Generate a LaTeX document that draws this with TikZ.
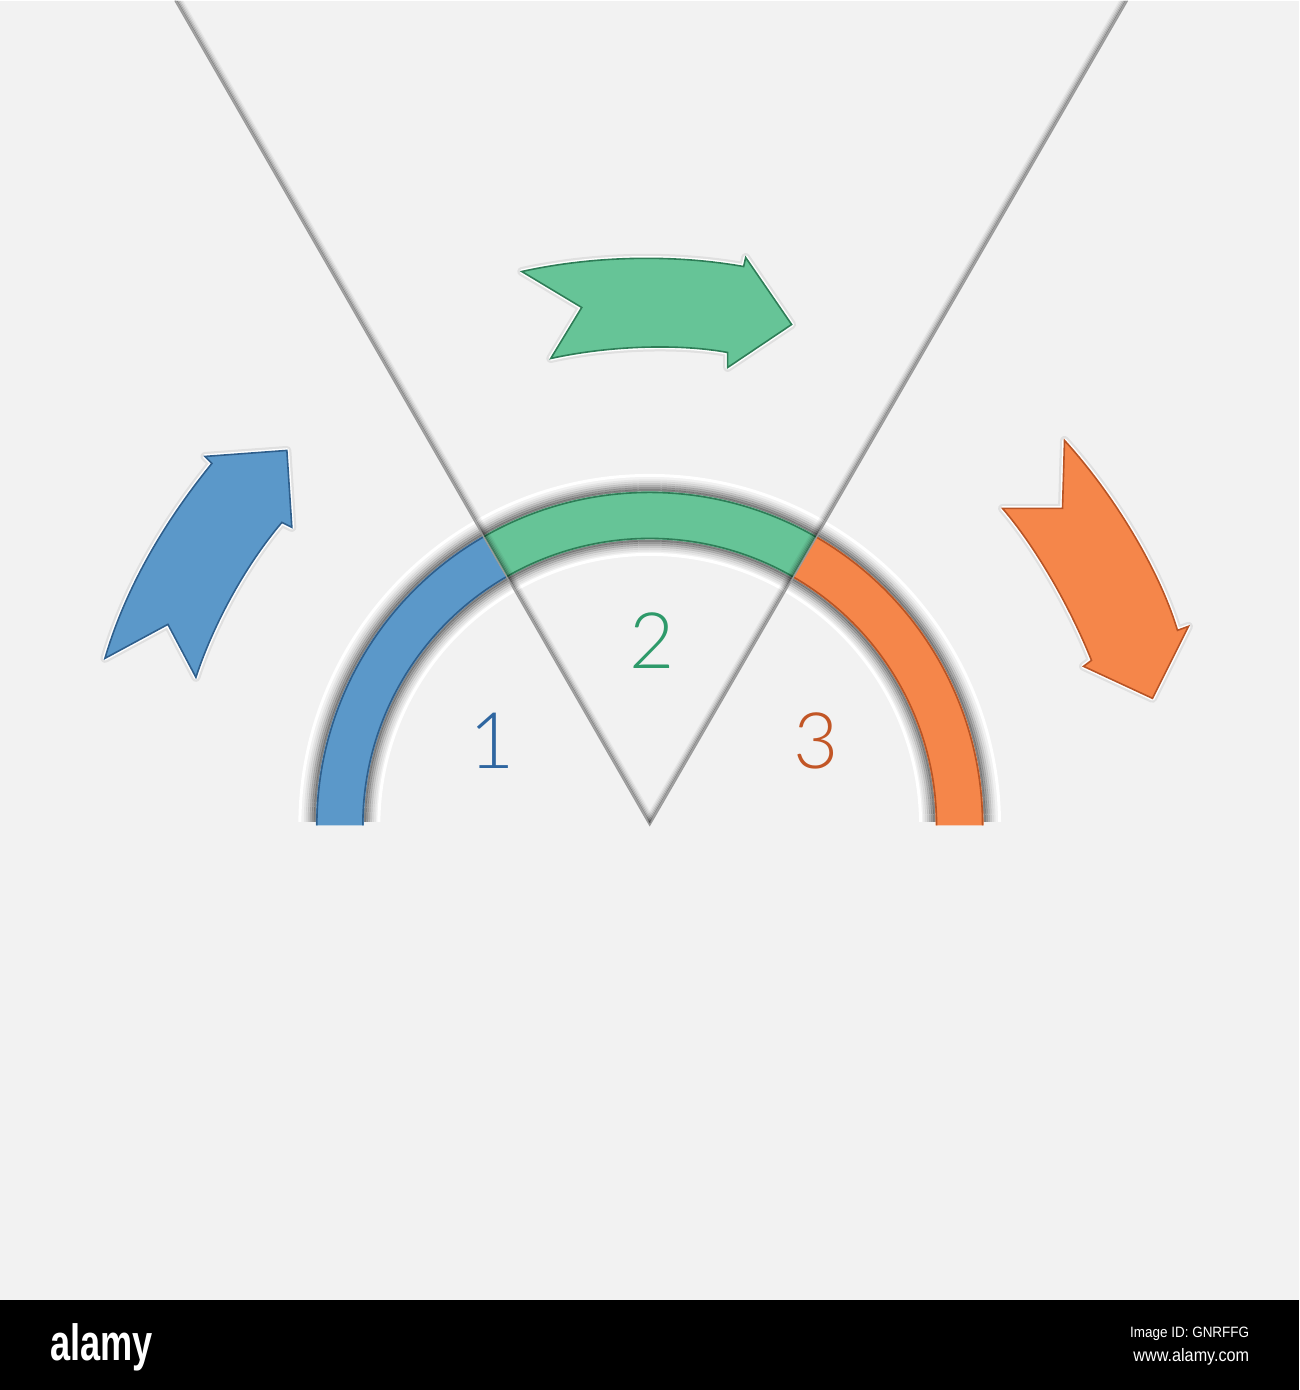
\documentclass[tikz,border=0pt]{standalone}
\usepackage{fontspec}
\setmainfont{Liberation Sans}
\IfFontExistsTF{Lato Light}{\newfontfamily\thinfont{Lato Light}}{%
  \IfFontExistsTF{Lato Thin}{\newfontfamily\thinfont{Lato Thin}[FakeBold=1.5]}{%
    \newfontfamily\thinfont{DejaVuSans-ExtraLight.ttf}}}
\usetikzlibrary{calc}
\definecolor{bg}{HTML}{F2F2F2}
\definecolor{blueF}{HTML}{5B98C9}
\definecolor{blueD}{HTML}{2F5F8C}
\definecolor{greenF}{HTML}{66C497}
\definecolor{greenD}{HTML}{2E7D57}
\definecolor{orangeF}{HTML}{F5864A}
\definecolor{orangeD}{HTML}{B85425}
\definecolor{numB}{HTML}{2F66A0}
\definecolor{numG}{HTML}{2E9A6A}
\definecolor{numO}{HTML}{C25626}
\definecolor{vgray}{HTML}{9A9A9A}
\tikzset{
  arrowshape/.style={line width=1.6, line join=miter,
    preaction={draw=black,opacity=0.07,line width=9,line join=round},
    preaction={draw=white,line width=4.5,line join=round}},
  vline/.style={draw=vgray,line width=1.3},
  digit/.style={font=\thinfont\fontsize{78}{78}\selectfont, inner sep=0, anchor=base},
  barfont/.style={text=white, inner sep=0}
}
\begin{document}
\begin{tikzpicture}[x=1pt,y=-1pt]
\fill[bg] (0,0) rectangle (1300,1390);
\coordinate (c) at (650,825);

% ring halo and shadows
\draw[white,line width=3] (c) ++(-180:350) arc[start angle=-180,end angle=0,radius=350];
\foreach \r/\o in {335/0.45,337/0.36,339/0.27,341/0.18,343/0.10,345/0.05}
  \draw[black,opacity=\o,line width=2.2] (c) ++(-180:\r) arc[start angle=-180,end angle=0,radius=\r];
\draw[white,line width=3] (c) ++(-180:271) arc[start angle=-180,end angle=0,radius=271];
\foreach \r/\o in {285/0.45,283/0.36,281/0.27,279/0.18,277/0.10,275/0.05}
  \draw[black,opacity=\o,line width=2.2] (c) ++(-180:\r) arc[start angle=-180,end angle=0,radius=\r];

% bottom shadow lines
\shade[left color=bg,middle color=black!80,right color=bg] (256,822.5) rectangle (422,826);
\shade[left color=bg,middle color=white,right color=bg] (256,826) rectangle (422,829);
\shade[left color=bg,middle color=black!80,right color=bg] (876,822.5) rectangle (1042,826);
\shade[left color=bg,middle color=white,right color=bg] (876,826) rectangle (1042,829);

% ring segments
\foreach \a/\b/\f/\d in {-180/-120/blueF/blueD,-120/-60/greenF/greenD,-60/0/orangeF/orangeD}{
  \fill[\f] (c) ++(\a:334) arc[start angle=\a,end angle=\b,radius=334]
     -- ($(c)+(\b:286)$) arc[start angle=\b,end angle=\a,radius=286] -- cycle;
  \draw[\d,line width=1.6] (c) ++(\a:333) arc[start angle=\a,end angle=\b,radius=333];
  \draw[\d,line width=1.6] (c) ++(\a:287) arc[start angle=\a,end angle=\b,radius=287];
}

% V shadows and lines
\begin{scope}
  \clip (175,0) -- (650,825) -- (1128,0) -- cycle;
  \foreach \s/\o in {1.5/0.32,3/0.22,4.5/0.14,6/0.08,7.5/0.04}{
    \draw[black,opacity=\o,line width=1.8,xshift=\s] (175,0) -- (650,825);
    \draw[black,opacity=\o,line width=1.8,xshift=-\s] (1128,0) -- (650,825);
  }
\end{scope}
\draw[vline] (175,0) -- (c) -- (1128,0);

% numbers
\node[digit,text=numB] (n1) at (492,768) {1};
\node[digit,text=numG] (n2) at (652,668) {2};
\node[digit,text=numO] (n3) at (816,768) {3};

% blue arrow
\draw[arrowshape,fill=blueF,draw=blueD]
  (105,658) -- (168,624) -- (196,677)
  .. controls (212,628) and (243,568) .. (282,522)
  -- (292,527) -- (287,450) -- (205,456) -- (212,463)
  .. controls (160,527) and (124,593) .. (105,658) -- cycle;

% green arrow
\draw[arrowshape,fill=greenF,draw=greenD]
  (522,271) -- (582,307) -- (551,358)
  .. controls (610,345) and (680,343) .. (728,352)
  -- (728,367) -- (792,324) -- (746,257) -- (744,266)
  .. controls (670,253) and (590,256) .. (522,271) -- cycle;

% orange arrow
\draw[arrowshape,fill=orangeF,draw=orangeD]
  (1065,440) -- (1063,508) -- (1003,508)
  .. controls (1035,545) and (1070,605) .. (1092,660)
  -- (1084,666) -- (1153,698) -- (1189,626) -- (1178,630)
  .. controls (1160,570) and (1115,495) .. (1065,440) -- cycle;

% bottom bar
\fill[black] (0,1300) rectangle (1300,1390);
\node[barfont,anchor=base west,font=\fontsize{51}{51}\selectfont\bfseries] (logo) at (50,1360) {\scalebox{0.71}[1]{alamy}};
\node[barfont,anchor=base east,font=\fontsize{15}{15}\selectfont] (imgid) at (1250,1337) {\scalebox{0.9}[1]{Image ID: GNRFFG}};
\node[barfont,anchor=base east,font=\fontsize{18}{18}\selectfont] (url) at (1250,1361) {\scalebox{0.9}[1]{www.alamy.com}};
\end{tikzpicture}
\end{document}
